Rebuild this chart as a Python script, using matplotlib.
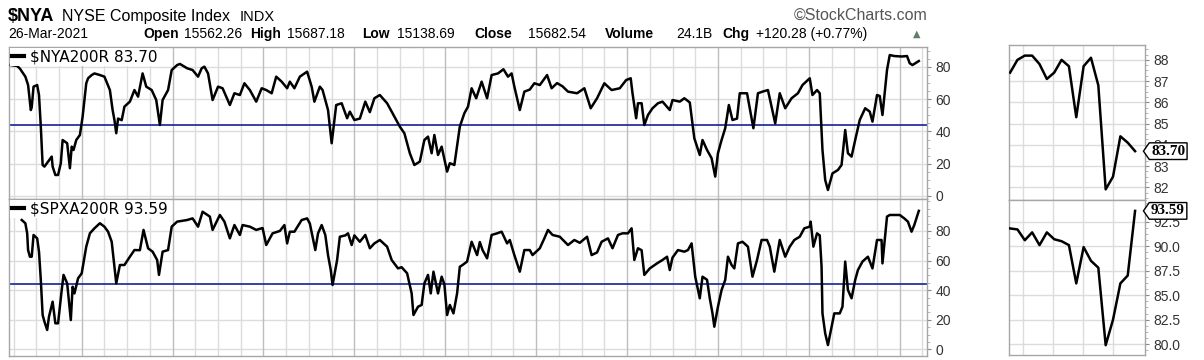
import matplotlib
matplotlib.use('Agg')
import matplotlib.pyplot as plt
import matplotlib.transforms as mtransforms
from matplotlib.path import Path
from matplotlib.lines import Line2D
from matplotlib.ticker import MultipleLocator, FormatStrFormatter

plt.rcParams['text.parse_math'] = False
plt.rcParams['font.family'] = ['Liberation Sans', 'DejaVu Sans']

# ---- data (decimal year, % of stocks above 200-day MA) ----
nya_years = [
    2011.22, 2011.29, 2011.32, 2011.38, 2011.41, 2011.44, 2011.45, 2011.47, 2011.51, 2011.53,
    2011.55, 2011.57, 2011.59, 2011.63, 2011.67, 2011.68, 2011.71, 2011.74, 2011.77, 2011.79,
    2011.84, 2011.87, 2011.89, 2011.91, 2011.94, 2011.98,
    2012.01, 2012.05, 2012.07, 2012.11, 2012.14, 2012.20, 2012.25, 2012.28, 2012.31, 2012.34,
    2012.36, 2012.38, 2012.40, 2012.44, 2012.47, 2012.53, 2012.58, 2012.62, 2012.67, 2012.71,
    2012.77, 2012.82, 2012.86, 2012.89, 2012.95, 2012.99,
    2013.05, 2013.08, 2013.16, 2013.22, 2013.28, 2013.32, 2013.35, 2013.39, 2013.44, 2013.50,
    2013.55, 2013.63, 2013.68, 2013.74, 2013.79, 2013.85, 2013.92, 2013.98,
    2014.03, 2014.09, 2014.14, 2014.20, 2014.26, 2014.29, 2014.34, 2014.40, 2014.48, 2014.53,
    2014.56, 2014.62, 2014.65, 2014.71, 2014.75, 2014.80, 2014.86, 2014.92, 2014.95,
    2015.00, 2015.06, 2015.12, 2015.17, 2015.22, 2015.28, 2015.36, 2015.42, 2015.50, 2015.55,
    2015.61, 2015.66, 2015.72, 2015.77, 2015.81, 2015.85, 2015.88, 2015.92, 2015.96,
    2016.02, 2016.05, 2016.10, 2016.16, 2016.21, 2016.25, 2016.29, 2016.34, 2016.40, 2016.46,
    2016.51, 2016.58, 2016.64, 2016.69, 2016.73, 2016.76, 2016.82, 2016.87, 2016.93, 2016.98,
    2017.04, 2017.12, 2017.17, 2017.23, 2017.29, 2017.35, 2017.45, 2017.53, 2017.60, 2017.67,
    2017.75, 2017.83, 2017.92, 2017.99,
    2018.04, 2018.06, 2018.10, 2018.12, 2018.16, 2018.19, 2018.23, 2018.28, 2018.34, 2018.39,
    2018.47, 2018.50, 2018.58, 2018.63, 2018.69, 2018.74, 2018.80, 2018.83, 2018.88, 2018.93,
    2018.97,
    2019.00, 2019.04, 2019.08, 2019.12, 2019.16, 2019.21, 2019.24, 2019.32, 2019.39, 2019.44,
    2019.49, 2019.55, 2019.63, 2019.68, 2019.74, 2019.81, 2019.88, 2019.93,
    2020.01, 2020.04, 2020.09, 2020.12, 2020.15, 2020.18, 2020.21, 2020.26, 2020.32, 2020.36,
    2020.40, 2020.43, 2020.47, 2020.51, 2020.56, 2020.62, 2020.67, 2020.70, 2020.75, 2020.78,
    2020.81, 2020.86, 2020.89, 2020.94,
    2021.02, 2021.08, 2021.11, 2021.14, 2021.21,
]
nya_values = [
    81.2, 80.6, 79.0, 74.0, 68.8, 53.3, 55.0, 67.8, 68.8, 62.6,
    43.0, 19.2, 18.2, 21.3, 24.4, 18.2, 13.0, 13.0, 20.3, 34.7,
    32.7, 17.2, 30.6, 28.5, 34.7, 37.8,
    49.2, 69.9, 73.0, 75.0, 76.0, 75.0, 74.0, 69.9, 65.7, 53.3,
    47.1, 38.9, 48.0, 47.0, 55.4, 58.5, 65.7, 61.6, 76.0, 67.8,
    65.7, 59.5, 44.0, 59.5, 65.7, 78.1,
    81.2, 81.9, 79.2, 78.1, 74.0, 79.2, 80.2, 76.0, 59.5, 67.8,
    66.8, 56.4, 63.7, 62.6, 69.9, 65.7, 58.5, 66.8,
    65.7, 63.7, 74.0, 70.9, 66.8, 70.9, 66.8, 74.0, 77.1, 67.8,
    58.5, 67.8, 65.7, 53.3, 32.7, 56.4, 57.5, 48.2, 52.3,
    47.1, 48.0, 58.5, 52.0, 60.6, 62.6, 57.5, 51.3, 43.0, 38.9,
    26.5, 19.2, 21.3, 34.7, 36.8, 26.5, 37.8, 25.4, 30.6,
    15.1, 20.3, 19.2, 43.0, 51.3, 55.4, 66.8, 60.6, 70.9, 60.6,
    75.0, 76.0, 78.6, 74.0, 76.0, 67.8, 53.3, 64.7, 66.0, 69.9,
    68.8, 75.0, 66.8, 70.0, 68.0, 64.7, 63.7, 66.8, 54.4, 60.6,
    69.9, 65.7, 66.8, 71.9,
    73.0, 63.7, 48.2, 57.5, 57.5, 44.0, 50.2, 54.4, 57.5, 58.5,
    53.3, 59.5, 58.5, 60.6, 58.0, 35.8, 25.4, 34.7, 28.5, 23.4,
    12.0,
    26.5, 34.7, 42.0, 56.4, 47.1, 48.0, 63.7, 63.7, 42.0, 63.7,
    64.7, 65.7, 45.0, 63.7, 54.4, 60.6, 63.7, 68.8,
    73.0, 62.6, 65.7, 63.7, 28.5, 9.9, 3.7, 14.0, 16.1, 19.2,
    40.9, 26.5, 24.4, 34.7, 47.1, 54.4, 52.3, 46.1, 62.6, 62.0,
    50.2, 78.1, 87.4, 86.8,
    86.5, 86.8, 82.3, 81.2, 83.70,
]

spx_years = [
    2011.34, 2011.38, 2011.40, 2011.41, 2011.43, 2011.45, 2011.47, 2011.51, 2011.53, 2011.55,
    2011.57, 2011.59, 2011.62, 2011.64, 2011.68, 2011.71, 2011.74, 2011.78, 2011.80, 2011.84,
    2011.88, 2011.90, 2011.92, 2011.96,
    2012.00, 2012.05, 2012.09, 2012.14, 2012.20, 2012.25, 2012.29, 2012.33, 2012.36, 2012.38,
    2012.42, 2012.47, 2012.53, 2012.58, 2012.64, 2012.68, 2012.73, 2012.78, 2012.83, 2012.85,
    2012.89, 2012.95, 2012.99,
    2013.05, 2013.16, 2013.22, 2013.28, 2013.33, 2013.41, 2013.44, 2013.52, 2013.57, 2013.63,
    2013.68, 2013.74, 2013.77, 2013.85, 2013.92, 2013.99,
    2014.03, 2014.10, 2014.18, 2014.23, 2014.26, 2014.29, 2014.34, 2014.42, 2014.48, 2014.51,
    2014.57, 2014.60, 2014.64, 2014.68, 2014.71, 2014.74, 2014.76, 2014.81, 2014.84, 2014.90,
    2014.93, 2014.97,
    2015.00, 2015.06, 2015.12, 2015.17, 2015.22, 2015.28, 2015.36, 2015.41, 2015.48, 2015.52,
    2015.58, 2015.63, 2015.65, 2015.70, 2015.74, 2015.77, 2015.81, 2015.84, 2015.87, 2015.92,
    2015.96, 2015.99,
    2016.02, 2016.05, 2016.09, 2016.13, 2016.16, 2016.19, 2016.24, 2016.29, 2016.35, 2016.38,
    2016.41, 2016.46, 2016.51, 2016.57, 2016.62, 2016.68, 2016.71, 2016.76, 2016.82, 2016.87,
    2016.93, 2016.96,
    2017.04, 2017.09, 2017.13, 2017.18, 2017.26, 2017.35, 2017.42, 2017.48, 2017.56, 2017.61,
    2017.67, 2017.72, 2017.79, 2017.84, 2017.90, 2017.95,
    2018.01, 2018.05, 2018.08, 2018.12, 2018.16, 2018.19, 2018.25, 2018.33, 2018.39, 2018.44,
    2018.47, 2018.50, 2018.56, 2018.63, 2018.67, 2018.71, 2018.75, 2018.80, 2018.83, 2018.88,
    2018.91, 2018.94, 2018.96,
    2019.00, 2019.04, 2019.08, 2019.11, 2019.15, 2019.18, 2019.22, 2019.27, 2019.33, 2019.38,
    2019.43, 2019.48, 2019.54, 2019.57, 2019.62, 2019.68, 2019.74, 2019.79, 2019.84, 2019.90,
    2019.95,
    2020.01, 2020.02, 2020.05, 2020.09, 2020.12, 2020.14, 2020.15, 2020.18, 2020.21, 2020.25,
    2020.28, 2020.34, 2020.37, 2020.40, 2020.43, 2020.47, 2020.51, 2020.54, 2020.59, 2020.65,
    2020.70, 2020.75, 2020.80, 2020.81, 2020.86, 2020.89,
    2021.00, 2021.05, 2021.09, 2021.13, 2021.16, 2021.21,
]
spx_values = [
    87.4, 85.2, 78.4, 67.1, 62.6, 62.6, 77.3, 75.0, 66.0, 46.9,
    23.2, 18.7, 13.1, 22.1, 32.2, 17.6, 17.6, 40.1, 50.3, 44.6,
    19.8, 42.3, 37.8, 48.0,
    51.4, 69.4, 78.4, 81.8, 85.2, 82.9, 79.5, 72.7, 55.8, 44.6,
    57.0, 57.0, 62.6, 67.1, 67.0, 80.7, 68.3, 66.0, 60.4, 50.3,
    66.0, 67.1, 82.9,
    86.3, 87.4, 88.5, 82.9, 93.0, 89.7, 80.7, 90.8, 86.3, 75.0,
    84.0, 77.3, 84.0, 82.9, 80.7, 82.0,
    70.5, 78.4, 80.0, 84.0, 71.6, 79.5, 79.5, 87.4, 88.5, 85.0,
    67.1, 78.4, 84.0, 77.3, 63.7, 53.6, 43.5, 60.4, 76.1, 77.0,
    78.4, 70.5,
    77.0, 72.7, 77.3, 68.3, 71.6, 73.9, 69.4, 60.4, 54.7, 55.5,
    51.4, 37.8, 23.2, 28.8, 30.0, 44.6, 50.3, 37.8, 52.5, 37.8,
    49.1, 44.0,
    23.2, 30.0, 24.3, 37.8, 55.8, 57.0, 59.3, 72.7, 63.7, 72.5,
    67.1, 61.5, 77.3, 78.4, 79.5, 71.6, 73.9, 63.7, 52.5, 67.1,
    67.1, 63.7,
    68.3, 75.0, 80.7, 77.3, 76.1, 70.5, 73.9, 72.0, 76.1, 63.7,
    65.5, 72.7, 75.0, 68.3, 77.3, 78.4,
    78.4, 81.8, 60.4, 68.3, 67.0, 50.3, 54.7, 58.1, 60.4, 62.6,
    53.6, 62.0, 67.1, 66.0, 67.1, 71.6, 49.1, 34.5, 49.1, 47.0,
    34.5, 24.3, 15.3,
    28.8, 40.1, 46.9, 62.6, 57.0, 54.7, 71.6, 72.7, 69.4, 49.1,
    60.4, 73.9, 73.9, 69.4, 52.5, 73.9, 62.6, 69.4, 73.9, 76.1,
    81.8,
    82.9, 86.3, 69.4, 78.4, 77.0, 55.8, 24.3, 10.8, 2.9, 15.3,
    24.3, 24.3, 28.8, 59.3, 40.1, 34.5, 46.9, 53.6, 59.3, 62.6,
    54.7, 73.9, 73.9, 58.1, 89.7, 90.8,
    90.8, 88.5, 86.3, 79.5, 84.0, 93.59,
]

# last 18 sessions (zoomed panels on the right)
nya_recent = [87.4, 88.0, 88.2, 88.2, 87.8, 87.1, 87.4, 88.0, 87.7, 85.3,
              87.7, 88.1, 86.8, 81.9, 82.5, 84.4, 84.1, 83.70]
spx_recent = [91.8, 91.7, 90.6, 91.4, 90.1, 91.4, 90.7, 90.5, 90.1, 86.2,
              89.9, 88.5, 87.8, 79.9, 82.5, 86.2, 87.0, 93.59]

threshold = 44
nya_label = '$NYA200R 83.70'
spx_label = '$SPXA200R 93.59'

W, H = 1204, 360
fig = plt.figure(figsize=(W / 100, H / 100), dpi=100)


def px_box(left, top, right, bottom):
    return [left / W, 1 - bottom / H, (right - left) / W, (bottom - top) / H]


grid_c = '#dcdcdc'
year_c = '#bdbdbd'
spine_c = '#a6a6a6'
text_c = '#333333'


def style_axis(ax):
    for s in ax.spines.values():
        s.set_color(spine_c)
        s.set_linewidth(1)
    ax.yaxis.tick_right()
    ax.tick_params(axis='x', bottom=False, labelbottom=False)
    ax.tick_params(axis='y', which='major', length=3, color='#888888',
                   labelsize=10, labelcolor=text_c, pad=3)
    ax.tick_params(axis='y', which='minor', length=2, color='#aaaaaa')
    ax.yaxis.grid(True, color=grid_c, linewidth=1)
    ax.set_axisbelow(True)


def tag_box(x0, y0, width, height, mutation_size):
    pad = 0.12 * mutation_size
    x0, y0 = x0 - pad, y0 - pad
    x1, y1 = x0 + width + 2 * pad, y0 + height + 2 * pad
    tip = x0 - 0.35 * (y1 - y0)
    return Path([(x0, y0), (x1, y0), (x1, y1), (x0, y1), (tip, (y0 + y1) / 2), (x0, y0)],
                closed=True)


main_panels = [
    (px_box(9, 47, 927, 199), nya_years, nya_values, (-1.9, 92.4), nya_label),
    (px_box(9, 199, 927, 356), spx_years, spx_values, (-4.5, 101.6), spx_label),
]
for rect, xs, ys, ylim, label in main_panels:
    ax = fig.add_axes(rect)
    style_axis(ax)
    for q in range(2011 * 4, 2021 * 4 + 2):
        ax.axvline(q / 4, color=year_c if q % 4 == 0 else grid_c, lw=1, zorder=0.6)
    ax.axhline(threshold, color='#26339c', lw=1.3, zorder=2)
    ax.plot(xs, ys, color='black', lw=1.8, solid_joinstyle='round', zorder=3)
    ax.set_xlim(2011.2, 2021.3)
    ax.set_ylim(*ylim)
    ax.set_yticks([0, 20, 40, 60, 80])
    ax.yaxis.set_minor_locator(MultipleLocator(5))
    handle = Line2D([], [], color='black', lw=3)
    leg = ax.legend([handle], [label], loc='upper left', borderaxespad=0.05,
                    handlelength=0.8, handletextpad=0.4, borderpad=0.12,
                    frameon=True, fancybox=False, framealpha=1,
                    prop={'family': 'DejaVu Sans', 'size': 11})
    leg.get_frame().set_edgecolor('none')
    leg.set_zorder(5)

mini_panels = [
    (px_box(1009, 45, 1145, 200), nya_recent, (81.4, 88.7), 1, '%d'),
    (px_box(1009, 200, 1145, 355), spx_recent, (78.9, 94.7), 2.5, '%.1f'),
]
for rect, ys, ylim, step, fmt in mini_panels:
    ax = fig.add_axes(rect)
    style_axis(ax)
    for xg in [1.8, 5.9, 9.95, 14.0]:
        ax.axvline(xg, color=grid_c, lw=1, zorder=0.6)
    ax.plot(range(len(ys)), ys, color='black', lw=1.8, solid_joinstyle='round', zorder=3)
    ax.set_xlim(-0.15, 18.35)
    ax.set_ylim(*ylim)
    ax.yaxis.set_major_locator(MultipleLocator(step))
    ax.yaxis.set_minor_locator(MultipleLocator(step / 4))
    ax.yaxis.set_major_formatter(FormatStrFormatter(fmt))
    trans = mtransforms.blended_transform_factory(ax.transAxes, ax.transData)
    ax.text(1.045, ys[-1], f'{ys[-1]:.2f}', transform=trans, ha='left', va='center',
            fontsize=11, fontweight='bold', family='Liberation Serif', color='black',
            bbox=dict(boxstyle=tag_box, facecolor='white', edgecolor='black', lw=1),
            zorder=10, clip_on=False)

# ---- header ----
def htext(x, y, s, **kw):
    fig.text(x / W, 1 - y / H, s, va='baseline', ha=kw.pop('ha', 'left'), **kw)


htext(8, 21, '$NYA', fontsize=13, fontweight='bold', color='black')
htext(62, 21, 'NYSE Composite Index', fontsize=11.5, color='black')
htext(240, 21, 'INDX', fontsize=10.5, color='black')
htext(927, 20, '\u00a9StockCharts.com', fontsize=11.5, color='#555555', ha='right')

row2 = [
    (8, '26-Mar-2021', 'normal'),
    (143, 'Open', 'bold'), (184, '15562.26', 'normal'),
    (250, 'High', 'bold'), (287, '15687.18', 'normal'),
    (362, 'Low', 'bold'), (397, '15138.69', 'normal'),
    (474, 'Close', 'bold'), (528, '15682.54', 'normal'),
    (605, 'Volume', 'bold'), (676, '24.1B', 'normal'),
    (722, 'Chg', 'bold'), (756, '+120.28 (+0.77%)', 'normal'),
]
for x, s, w in row2:
    htext(x, 38, s, fontsize=10 if w == 'bold' else 10, fontweight=w, color='black')
htext(913, 37, '\u25b2', fontsize=7, color='#5f7f6a', family='DejaVu Sans')

fig.savefig('out.png', dpi=100)
